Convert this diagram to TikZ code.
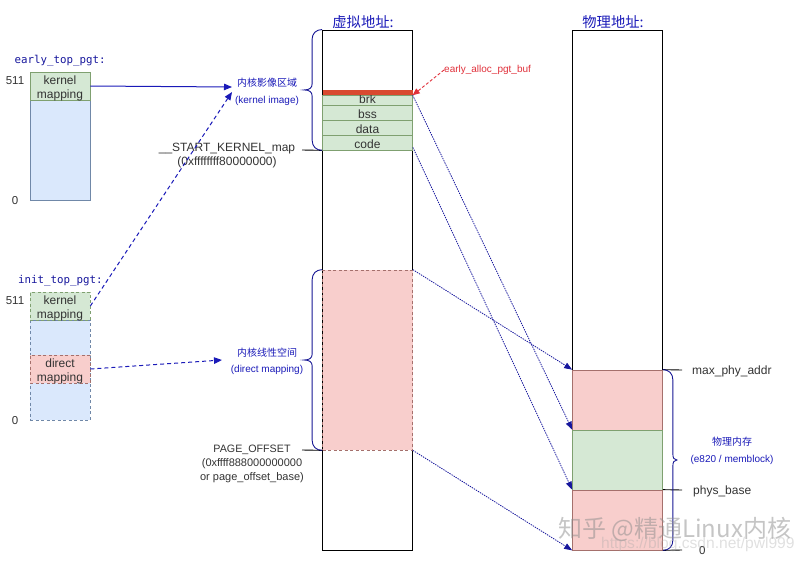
\documentclass[tikz,border=0pt]{standalone}
\usepackage{fontspec}
\setmainfont{Liberation Sans}
\newfontfamily\cjkf{Noto Sans CJK SC}
\newfontfamily\monof{DejaVu Sans Mono}
\usetikzlibrary{calc,arrows.meta}
\definecolor{gf}{HTML}{D5E8D4}\definecolor{gd}{HTML}{7FA070}
\definecolor{pf}{HTML}{F8CECC}\definecolor{pd}{HTML}{A5706C}
\definecolor{bf}{HTML}{DAE8FC}\definecolor{bd}{HTML}{7088A8}
\definecolor{navy}{HTML}{1A1AB8}\definecolor{ink}{HTML}{333333}
\definecolor{redl}{HTML}{E0303A}\definecolor{redbar}{HTML}{D94A30}
\newcommand{\bracket}[4]{% from, to, direction, tip length
  \coordinate (bm) at ($(#1)!.5!(#2)$);
  \draw[curly] (#1) .. controls ($(#1)+({#3*6},0)$) and ($(#1)+({#3*10},4)$) .. ($(#1)+({#3*10},10)$)
    -- ($(bm)+({#3*10},-6)$) .. controls ($(bm)+({#3*10},-2)$) and ($(bm)+({#3*(10+#4/3)},0)$) .. ($(bm)+({#3*(10+#4)},0)$)
    .. controls ($(bm)+({#3*(10+#4/3)},0)$) and ($(bm)+({#3*10},2)$) .. ($(bm)+({#3*10},6)$)
    -- ($(#2)+({#3*10},-10)$) .. controls ($(#2)+({#3*10},-4)$) and ($(#2)+({#3*6},0)$) .. (#2);}
\tikzset{
  x=1pt,y=-1pt,
  cell/.style={rectangle,inner sep=0pt,minimum width=60pt},
  vcell/.style={rectangle,inner sep=0pt,minimum width=90pt},
  ctext/.style={inner sep=0pt,align=center,text=ink,yshift=-2pt,font=\fontsize{12}{14}\selectfont},
  green/.style={fill=gf,draw=gd,line width=.7pt},
  pink/.style={fill=pf,draw=pd,line width=.7pt},
  blue/.style={fill=bf,draw=bd,line width=.7pt},
  dsh/.style={dash pattern=on 3pt off 2.5pt},
  lbl/.style={inner sep=0pt,align=center,text=ink,font=\fontsize{12}{14}\selectfont},
  idx/.style={inner sep=0pt,text=ink,font=\fontsize{11.5}{12}\selectfont},
  ttl/.style={inner sep=0pt,text=navy!85!black,font=\monof\fontsize{10.8}{12}\selectfont},
  cn/.style={inner sep=0pt,align=center,text=navy,font=\fontsize{10}{16.5}\selectfont},
  head/.style={inner sep=0pt,text=navy,font=\cjkf\fontsize{14.3}{16}\selectfont},
  solidarrow/.style={draw=navy,line width=1pt,-{Triangle[length=8pt,width=6.5pt]}},
  dasharrow/.style={draw=navy,line width=1pt,dash pattern=on 4pt off 3pt,-{Triangle[length=8pt,width=6.5pt,sep=0pt]}},
  maparrow/.style={draw=navy!85!black,line width=.8pt,dash pattern=on 1.4pt off 1pt,-{Triangle[length=8pt,width=6pt]}},
  curly/.style={draw=navy!80!black,line width=.9pt},
  tick/.style={draw=black,line width=.9pt},
}
\begin{document}
\begin{tikzpicture}
\useasboundingbox (0,0) rectangle (808,562);
% early_top_pgt
\node[ttl,anchor=west] (t1) at (14.5,61) {early\_top\_pgt:};
\node[cell,blue,minimum height=100pt] (e0) at (60,150) {};
\node[cell,green,minimum height=28pt,label={[ctext]center:kernel\\mapping}] (e1) at (60,86) {};
\node[idx] (e511) at (15,80.5) {511};
\node[idx] (e00) at (15,200.5) {0};
% init_top_pgt
\node[ttl,anchor=west] (t2) at (18,280.5) {init\_top\_pgt:};
\node[cell,blue,dsh,minimum height=100pt] (i0) at (60,370) {};
\node[cell,green,dsh,minimum height=28pt,label={[ctext]center:kernel\\mapping}] (i1) at (60,306) {};
\node[cell,pink,dsh,minimum height=28pt,label={[ctext]center:direct\\mapping}] (i2) at (60,369) {};
\node[idx] (i511) at (15,300.5) {511};
\node[idx] (i00) at (15,420.5) {0};
% virtual
\node[head] (vh) at (363,22) {虚拟地址:};
\node[vcell,draw=black,line width=.9pt,minimum height=520pt] (vbox) at (367.5,290) {};
\node[vcell,pink,dsh,minimum height=180pt] (vlin) at (367.5,360) {};
\node[vcell,green,minimum height=10pt,label={[ctext,yshift=3pt]center:brk}] (vbrk) at (367.5,100) {};
\node[vcell,green,minimum height=15pt,label={[ctext]center:bss}] (vbss) at (367.5,112.5) {};
\node[vcell,green,minimum height=15pt,label={[ctext]center:data}] (vdata) at (367.5,127.5) {};
\node[vcell,green,minimum height=15pt,label={[ctext]center:code}] (vcode) at (367.5,142.5) {};
\node[vcell,fill=redbar,minimum height=5pt] (vbar) at (367.5,92.5) {};
% physical
\node[head] (ph) at (613,22) {物理地址:};
\node[vcell,draw=black,line width=.9pt,minimum height=520pt] (pbox) at (617.5,290) {};
\node[vcell,pink,minimum height=60pt] (p3) at (617.5,400) {};
\node[vcell,green,minimum height=60pt] (p2) at (617.5,460) {};
\node[vcell,pink,minimum height=60pt] (p1) at (617.5,520) {};
% labels
\node[cn] (kimg) at (267,92) {{\cjkf 内核影像区域}\\(kernel image)};
\node[cn] (dmap) at (267,361.5) {{\cjkf 内核线性空间}\\(direct mapping)};
\node[cn] (pmem) at (732,451) {{\cjkf 物理内存}\\(e820 / memblock)};
\node[lbl] (skm) at (227,156) {\_\_START\_KERNEL\_map\\(0xffffffff80000000)};
\node[lbl,font=\fontsize{11}{14}\selectfont] (po) at (252,464) {{\fontsize{10.7}{14}\selectfont PAGE\_OFFSET}\\(0xffff888000000000\\or page\_offset\_base)};
\node[lbl,anchor=west] (mpa) at (692,371) {max\_phy\_addr};
\node[lbl,anchor=west] (pb) at (693,491) {phys\_base};
\node[idx,anchor=west] (z) at (699,551) {0};
\node[inner sep=0pt,text=redl,font=\fontsize{10}{12}\selectfont,anchor=west] (eapb) at (444,70) {early\_alloc\_pgt\_buf};
% ticks
\coordinate (a1) at (302,150); \coordinate (a2) at (302,450);
\coordinate (a3) at (682,370); \coordinate (a4) at (682,490); \coordinate (a5) at (682,550);
\draw[tick] (a1) -- (vcode.south west);
\draw[tick] (a2) -- (vlin.south west);
\draw[tick] (a3) -- (p3.north east);
\draw[tick] (a4) -- (p1.north east);
\draw[tick] (a5) -- (p1.south east);
% braces
\bracket{vbox.north west}{vcode.south west}{-1}{8}
\bracket{vlin.north west}{vlin.south west}{-1}{8}
\bracket{p3.north east}{p1.south east}{1}{4}
% arrows
\coordinate (kh) at (232,87); \coordinate (kh2) at (232,92); \coordinate (dh) at (222,360);
\draw[solidarrow] (e1.east) -- (kh);
\draw[dasharrow] (i1.east) -- (kh2);
\draw[dasharrow] (i2.east) -- (dh);
\draw[draw=redl,line width=.9pt,dash pattern=on 3pt off 2pt,-{Triangle[length=7pt,width=6pt]}] (eapb.west) -- (vbar.south east);
\draw[maparrow] (vbar.south east) -- (p2.north west);
\draw[maparrow] ([yshift=3pt]vcode.south east) -- (p1.north west);
\draw[maparrow] (vlin.north east) -- (p3.north west);
\draw[maparrow] (vlin.south east) -- (p1.south west);
% watermark
\node[inner sep=0pt,anchor=west,text=black!45,opacity=.5,font=\cjkf\fontsize{24}{26}\selectfont] (wm1) at (558,529) {知乎 @精通Linux内核};
\node[inner sep=0pt,anchor=west,text=black!35,opacity=.35,font=\fontsize{15.6}{16}\selectfont] (wm2) at (601,544) {https://blog.csdn.net/pwl999};
\end{tikzpicture}
\end{document}
